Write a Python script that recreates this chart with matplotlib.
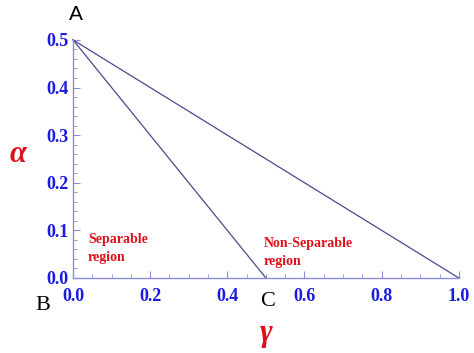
import matplotlib
matplotlib.use("Agg")
import matplotlib.pyplot as plt
from matplotlib.ticker import MultipleLocator

# Data
line1_x = [0.0, 1.0]
line1_y = [0.5, 0.0]
line2_x = [0.0, 0.5]
line2_y = [0.5, 0.0]
xticks = [0.0, 0.2, 0.4, 0.6, 0.8, 1.0]
yticks = [0.0, 0.1, 0.2, 0.3, 0.4, 0.5]

fig = plt.figure(figsize=(4.74, 3.53), dpi=100)
ax = fig.add_axes([0.154, 0.2125, 0.814, 0.6745])
ax.plot(line1_x, line1_y, color="#4a4a8c", lw=0.9, clip_on=False)
ax.plot(line2_x, line2_y, color="#4a4a8c", lw=0.9, clip_on=False)
ax.set_xlim(0, 1.0)
ax.set_ylim(0, 0.5)
for s in ["top", "right"]:
    ax.spines[s].set_visible(False)
axcol = "#8c8ce0"
for s in ["left", "bottom"]:
    ax.spines[s].set_color(axcol)
    ax.spines[s].set_linewidth(1.0)
ax.set_xticks(xticks)
ax.set_yticks(yticks)
ax.xaxis.set_minor_locator(MultipleLocator(0.05))
ax.yaxis.set_minor_locator(MultipleLocator(0.02))
ax.tick_params(which="major", direction="in", length=5, color=axcol)
ax.tick_params(axis="x", which="major", pad=7)
ax.tick_params(axis="y", which="major", pad=3)
ax.tick_params(which="minor", direction="in", length=3, color=axcol)
tf = dict(family="Liberation Serif", weight="bold", size=13)
ax.set_xticklabels([f"{v:.1f}" for v in xticks], color="#1a1ae0", **tf)
ax.set_yticklabels([f"{v:.1f}" for v in yticks], color="#1a1ae0", **tf)

fig.text(18/474, 1-155/353, "α", color="#e0101a", family="Liberation Serif",
         weight="bold", style="italic", size=22, ha="center", va="center")
fig.text(266/474, 1-334/353, "γ", color="#e0101a", family="Liberation Serif",
         weight="bold", style="italic", size=22, ha="center", va="center")
fig.text(76/474, 1-15/353, "A", color="black", family="Liberation Sans", size=15,
         ha="center", va="center")
fig.text(43/474, 1-306/353, "B", color="black", family="Liberation Serif", size=16,
         ha="center", va="center")
fig.text(268/474, 1-302/353, "C", color="black", family="Liberation Serif", size=16,
         ha="center", va="center")
rf = dict(color="#e0101a", family="Liberation Serif", weight="bold", size=10,
          ha="left", va="center", linespacing=1.5)
fig.text(88/474, 1-249/353, "Separable\nregion", **rf)
fig.text(264/474, 1-252/353, "Non-Separable\nregion", **rf)

fig.savefig("out.png", dpi=100)
